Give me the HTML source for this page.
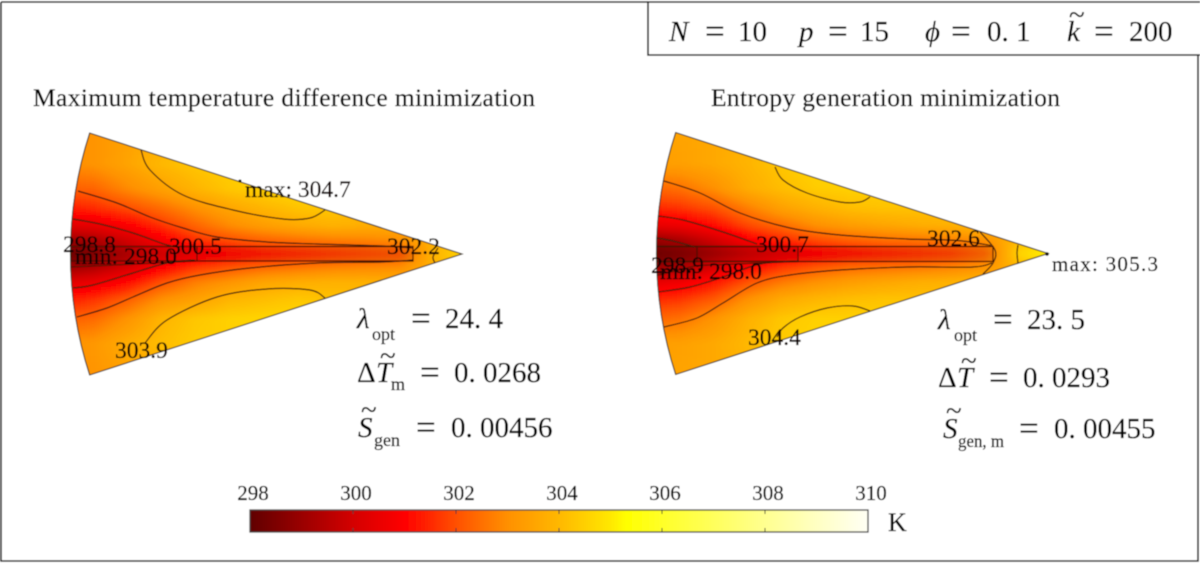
<!DOCTYPE html>
<html lang="en">
<head>
<meta charset="utf-8">
<title>Temperature fields for two optimization objectives</title>
<style>
html,body{margin:0;padding:0;background:#fff;width:1200px;height:563px;overflow:hidden}
svg{display:block}
text{font-family:"Liberation Serif",serif;fill:#000;stroke:#000;stroke-width:.22px}
.lab{font-size:23.5px;fill:#120500}
.eq{font-size:29px}
.big{font-size:35px}
.it{font-style:italic}
.sub{font-size:18px}
</style>
</head>
<body>
<svg id="chart" width="1200" height="563" viewBox="0 0 1200 563" xmlns="http://www.w3.org/2000/svg">
<defs>
<filter id="fieldBlur" x="-5%" y="-5%" width="110%" height="110%"><feGaussianBlur stdDeviation="1.6"/></filter>
<filter id="soft" x="0" y="0" width="100%" height="100%"><feGaussianBlur stdDeviation="0.5"/></filter>
<clipPath id="clipLeft"><path id="clipLeftPath" d=""/></clipPath>
<clipPath id="clipRight"><path id="clipRightPath" d=""/></clipPath>
<linearGradient id="barGradient" x1="0" x2="1" y1="0" y2="0"></linearGradient>
</defs>
<g filter="url(#soft)">
<rect x="0" y="0" width="1200" height="563" fill="#fff"/>
<path d="M1 2H648M1 2V561H1198V55" fill="none" stroke="#222" stroke-width="1.6"/>
<path d="M1200 2H648V55H1200" fill="none" stroke="#222" stroke-width="1.6"/>

<g>
<text class="eq it" x="669" y="41">N</text>
<text class="big" x="705" y="43">=</text>
<text class="eq" x="738" y="41">10</text>
<text class="eq it" x="799" y="41">p</text>
<text class="big" x="828" y="43">=</text>
<text class="eq" x="860" y="41">15</text>
<text class="eq it" x="925" y="41">ϕ</text>
<text class="big" x="951" y="43">=</text>
<text class="eq" x="987" y="41" xml:space="preserve">0. 1</text>
<text class="eq it" x="1067" y="41">k</text>
<text class="eq" x="1069" y="24">~</text>
<text class="big" x="1094" y="43">=</text>
<text class="eq" x="1129" y="41">200</text>
</g>

<text x="33" y="106" font-size="25.5" textLength="502" lengthAdjust="spacing">Maximum temperature difference minimization</text>
<text x="711" y="106" font-size="25.5" textLength="349" lengthAdjust="spacing">Entropy generation minimization</text>

<g id="leftPanel"></g>
<g id="rightPanel"></g>

<g>
<text class="lab" x="63" y="252">298.8</text>
<text class="lab" x="75" y="264">min: 298.0</text>
<text class="lab" x="169" y="254">300.5</text>
<text class="lab" x="387" y="254">302.2</text>
<text class="lab" x="245" y="197">max: 304.7</text>
<text class="lab" x="115" y="358">303.9</text>
<circle cx="240" cy="181" r="1.5" fill="#111"/>
</g>
<g>
<text class="lab" x="756" y="252">300.7</text>
<text class="lab" x="927" y="246">302.6</text>
<text class="lab" x="651" y="273">298.9</text>
<text class="lab" x="660" y="279">min: 298.0</text>
<text class="lab" x="748" y="345">304.4</text>
<text x="1052" y="271" font-size="21" textLength="106" lengthAdjust="spacing">max: 305.3</text>
<circle cx="1047" cy="254" r="1.8" fill="#111"/>
</g>

<g>
<text class="eq it" x="357" y="328">λ</text>
<text class="sub" x="372" y="340">opt</text>
<text class="big" x="411" y="330">=</text>
<text class="eq" x="445" y="328" xml:space="preserve">24. 4</text>
<text class="eq" x="357" y="382">Δ</text>
<text class="eq it" x="376" y="382">T</text>
<text class="eq" x="380" y="365">~</text>
<text class="sub" x="391" y="390">m</text>
<text class="big" x="420" y="384">=</text>
<text class="eq" x="454" y="382" xml:space="preserve">0. 0268</text>
<text class="eq it" x="358" y="437">S</text>
<text class="eq" x="361" y="419">~</text>
<text class="sub" x="374" y="446">gen</text>
<text class="big" x="416" y="439">=</text>
<text class="eq" x="451" y="437" xml:space="preserve">0. 00456</text>
</g>
<g>
<text class="eq it" x="938" y="329">λ</text>
<text class="sub" x="954" y="341">opt</text>
<text class="big" x="993" y="331">=</text>
<text class="eq" x="1027" y="329" xml:space="preserve">23. 5</text>
<text class="eq" x="938" y="387">Δ</text>
<text class="eq it" x="957" y="387">T</text>
<text class="eq" x="961" y="370">~</text>
<text class="big" x="989" y="389">=</text>
<text class="eq" x="1023" y="387" xml:space="preserve">0. 0293</text>
<text class="eq it" x="943" y="438">S</text>
<text class="eq" x="946" y="420">~</text>
<text class="sub" x="958" y="447" textLength="46" lengthAdjust="spacingAndGlyphs">gen, m</text>
<text class="big" x="1019" y="440">=</text>
<text class="eq" x="1054" y="438" xml:space="preserve">0. 00455</text>
</g>

<g id="colorbar"></g>
<text x="888" y="531" font-size="26">K</text>
</g>
</svg>
<script>
// Colour scale (kelvin → colour)
const colorStopTemps = [298, 299, 300, 301, 302, 303, 304, 305, 305.3, 306, 308, 310];
const colorStopValues = ['#600000', '#9a0000', '#d40000', '#ff0000', '#ff5000', '#ff9000', '#ffb800', '#ffe800', '#ffff00', '#ffff28', '#ffff90', '#fffff5'];
const barTickLabels = [298, 300, 302, 304, 306, 308, 310];

// Field sample positions: distance along the sector (columns) and offset from its axis (rows)
const fieldCols = [0, 34, 68, 102, 136, 170, 204, 238, 272, 306, 340, 374, 408];
const fieldRows = [120, 90, 65, 45, 28, 14, 0, -14, -28, -45, -65, -90, -120];

// Temperatures, K
const leftTemps = [
[303.0,303.1,303.4,303.7,303.9,304.1,304.3,304.4,304.5,304.5,304.5,304.5,304.5],
[302.9,303.1,303.5,304.0,304.3,304.5,304.6,304.7,304.7,304.7,304.7,304.7,304.7],
[302.2,302.3,302.9,303.4,303.9,304.3,304.5,304.7,304.6,304.6,304.6,304.6,304.6],
[301.2,301.5,301.9,302.4,303.0,303.5,303.9,304.2,304.3,304.1,304.1,304.1,304.1],
[300.2,300.4,300.9,301.6,302.3,302.9,303.3,303.6,303.8,303.7,303.7,303.8,304.0],
[299.0,299.3,300.0,300.8,301.6,302.0,302.3,302.5,302.7,302.8,303.0,303.8,304.5],
[298.0,298.6,299.4,300.1,300.6,301.0,301.3,301.5,301.7,301.9,302.1,303.9,304.7],
[299.0,299.4,300.1,301.0,301.7,302.1,302.4,302.6,302.8,302.9,303.0,303.8,304.5],
[300.2,300.5,301.1,302.0,302.7,303.1,303.5,303.7,303.8,303.8,303.7,303.8,304.0],
[301.2,301.6,302.2,303.0,303.4,303.9,304.1,304.3,304.2,304.1,304.1,304.1,304.1],
[302.2,302.4,303.1,303.9,304.3,304.5,304.6,304.7,304.6,304.6,304.6,304.6,304.6],
[303.0,303.2,303.7,304.1,304.4,304.5,304.6,304.7,304.7,304.7,304.7,304.7,304.7],
[303.0,303.1,303.4,303.7,303.9,304.1,304.3,304.4,304.5,304.5,304.5,304.5,304.5]
];
const rightTemps = [
[303.4,303.5,303.6,303.8,304.2,304.4,304.5,304.5,304.5,304.5,304.5,304.5,304.5],
[303.3,303.4,303.6,303.9,304.3,304.6,304.7,304.7,304.7,304.7,304.7,304.7,304.7],
[302.3,302.5,303.0,303.7,304.1,304.4,304.5,304.5,304.5,304.5,304.5,304.5,304.5],
[301.4,301.6,302.0,302.7,303.4,303.8,304.1,304.2,304.2,304.2,304.2,304.2,304.2],
[300.4,300.6,301.1,301.9,302.4,303.0,303.3,303.5,303.7,303.8,304.0,304.2,304.4],
[298.9,299.3,300.0,300.9,301.5,302.0,302.3,302.5,302.6,302.8,303.1,304.0,304.6],
[298.0,298.5,299.2,299.9,300.5,300.9,301.2,301.4,301.6,301.8,302.4,304.6,305.3],
[298.9,299.3,300.1,301.0,301.7,302.1,302.4,302.5,302.6,302.8,303.1,304.0,304.6],
[300.3,300.6,301.2,302.0,302.6,303.0,303.3,303.5,303.7,303.8,304.0,304.2,304.4],
[301.4,301.6,302.1,303.0,303.6,303.9,304.1,304.2,304.2,304.2,304.2,304.2,304.2],
[302.3,302.5,303.1,303.8,304.3,304.5,304.5,304.5,304.5,304.5,304.5,304.5,304.5],
[303.3,303.4,303.6,304.0,304.4,304.6,304.7,304.7,304.7,304.7,304.7,304.7,304.7],
[303.4,303.5,303.6,303.8,304.2,304.4,304.5,304.5,304.5,304.5,304.5,304.5,304.5]
];

// Isotherms, each as [distance along sector, offset from axis]
const leftIsothermCapTop = [[81,104],[90,84],[123,59],[173,44],[223,35],[250,36],[265,44]];
const leftIsothermCapBottom = [[85,-89],[107,-66],[157,-43],[207,-35],[250,-36],[265,-44]];
const leftIsothermOuterTop = [[18,63],[57,51],[90,37],[123,26],[157,17],[207,12],[257,10],[323,8],[353,6]];
const leftIsothermOuterBottom = [[17,-63],[47,-54],[73,-43],[107,-29],[140,-21],[190,-14],[257,-9],[323,-8],[353,-6]];
const leftIsothermInnerTop = [[13,35],[40,30],[73,21],[107,9],[120,7]];
const leftIsothermInnerBottom = [[13,-34],[33,-31],[73,-19],[107,-9],[135,-6]];
const leftIsothermTip = [[378,6],[373,-3],[375,-9]];
const leftFin = [[11,7.5],[353,7.5],[353,-7],[11,-7]];
const leftFinStep = [[137,7.5],[137,-7]];
const leftFinTaper = [[11,-13],[137,-7]];

const rightIsothermCapTop = [[129,86.5],[137,73.5],[161,60.5],[194,51.5],[214,51.5],[224,56.5]];
const rightIsothermCapBottom = [[224,-57.5],[207,-52.5],[181,-54.5],[154,-63.5],[137,-74.5],[131,-83.5]];
const rightIsothermOuterTop = [[18,72.5],[54,60.5],[94,40.5],[144,25.5],[194,18.5],[261,14.5],[311,13],[345,8]];
const rightIsothermOuterBottom = [[18,-73.5],[51,-64.5],[77,-49.5],[111,-29.5],[144,-21.5],[194,-16.5],[261,-13.5],[327,-13.5],[346,-9.5]];
const rightIsothermInnerTop = [[12,37.5],[37,33.5],[77,21.5],[111,9.5]];
const rightIsothermInnerBottom = [[12,-38.5],[44,-33.5],[77,-23.5],[114,-10.5],[152,-7.5]];
const rightIsothermCore = [[11,15.5],[27,12.5],[49,6.5]];
const rightIsothermWrap = [[334,21.5],[349,3.5],[347,-9.5],[337,-20.5]];
const rightIsothermTip = [[372,8.5],[371,0.5],[372,-9.5]];
const rightFin = [[10,7],[347,7],[347,-8],[10,-8]];
const rightFinMiddle = [[10,7],[152,7],[152,-8],[10,-8]];
const rightFinRoot = [[10,7],[51,7],[51,-8],[10,-8]];
const rightFinTaper = [[10,-22],[51,-12],[152,-8]];

const SVG_NS = 'http://www.w3.org/2000/svg';
function hexToRgb(h){ return [1,3,5].map(i => parseInt(h.substr(i,2),16)); }
function colorOf(t){
  const n = colorStopTemps.length;
  if (t <= colorStopTemps[0]) return colorStopValues[0];
  if (t >= colorStopTemps[n-1]) return colorStopValues[n-1];
  let i = 0;
  while (t > colorStopTemps[i+1]) i++;
  const f = (t - colorStopTemps[i]) / (colorStopTemps[i+1] - colorStopTemps[i]);
  const a = hexToRgb(colorStopValues[i]), b = hexToRgb(colorStopValues[i+1]);
  return 'rgb(' + a.map((v,k) => Math.round(v + (b[k]-v)*f)).join(',') + ')';
}
function smoothPath(pts, sx, sy){
  const p = pts.map(q => [sx(q[0]), sy(q[1])]);
  let d = 'M' + p[0][0] + ' ' + p[0][1];
  for (let i = 0; i < p.length-1; i++){
    const p0 = p[Math.max(i-1,0)], p1 = p[i], p2 = p[i+1], p3 = p[Math.min(i+2,p.length-1)];
    d += 'C' + (p1[0]+(p2[0]-p0[0])/6) + ' ' + (p1[1]+(p2[1]-p0[1])/6) + ' ' +
         (p2[0]-(p3[0]-p1[0])/6) + ' ' + (p2[1]-(p3[1]-p1[1])/6) + ' ' + p2[0] + ' ' + p2[1];
  }
  return d;
}
function polyPath(pts, sx, sy){
  return 'M' + pts.map(q => sx(q[0]) + ' ' + sy(q[1])).join('L');
}
// Field value at a position, blended between the four surrounding samples
function sampleField(temps, u, v){
  let c = 0;
  while (c < fieldCols.length-2 && u > fieldCols[c+1]) c++;
  let r = 0;
  while (r < fieldRows.length-2 && v < fieldRows[r+1]) r++;
  const fu = Math.min(1, Math.max(0, (u - fieldCols[c]) / (fieldCols[c+1] - fieldCols[c])));
  const fv = Math.min(1, Math.max(0, (fieldRows[r] - v) / (fieldRows[r] - fieldRows[r+1])));
  const top = temps[r][c] + (temps[r][c+1] - temps[r][c]) * fu;
  const bot = temps[r+1][c] + (temps[r+1][c+1] - temps[r+1][c]) * fu;
  return top + (bot - top) * fv;
}
function drawPanel(root, clipPathEl, clipId, temps, x0, y0, smoothLines, straightLines, fins){
  const sx = u => x0 + u;
  const sy = v => y0 - v;
  const R = 391.5, half = 18 * Math.PI / 180, apexU = 402;
  const ax = sx(apexU), ay = sy(0);
  const cx = ax - R * Math.cos(half), dy = R * Math.sin(half);
  const outline = 'M' + ax + ' ' + ay + 'L' + cx + ' ' + (ay-dy) + 'A' + R + ' ' + R + ' 0 0 0 ' + cx + ' ' + (ay+dy) + 'Z';
  clipPathEl.setAttribute('d', outline);

  const clipGroup = document.createElementNS(SVG_NS, 'g');
  clipGroup.setAttribute('clip-path', 'url(#' + clipId + ')');
  
  
  root.appendChild(clipGroup);
  const cells = document.createElementNS(SVG_NS, 'g');
  cells.setAttribute('filter', 'url(#fieldBlur)');
  
  
  clipGroup.appendChild(cells);

  const cellW = 5, cellH = 3;
  for (let u = -4; u < 412; u += cellW) {
    for (let v = 126; v > -126; v -= cellH) {
      const el = document.createElementNS(SVG_NS, 'rect');
      el.setAttribute('x', sx(u));
      el.setAttribute('y', sy(v));
      el.setAttribute('width', cellW + 0.5);
      el.setAttribute('height', cellH + 0.5);
      el.setAttribute('fill', colorOf(sampleField(temps, u + cellW/2, v - cellH/2)));
      
      
      cells.appendChild(el);
    }
  }

  fins.forEach(f => {
    const el = document.createElementNS(SVG_NS, 'path');
    el.setAttribute('d', polyPath(f, sx, sy) + 'Z');
    el.setAttribute('fill', 'rgba(120,0,0,0.1)');
    el.setAttribute('stroke', '#4a1000');
    el.setAttribute('stroke-width', '1.2');
    
    
    clipGroup.appendChild(el);
  });
  straightLines.forEach(l => {
    const el = document.createElementNS(SVG_NS, 'path');
    el.setAttribute('d', polyPath(l, sx, sy));
    el.setAttribute('fill', 'none');
    el.setAttribute('stroke', '#4a1000');
    el.setAttribute('stroke-width', '1.1');
    
    
    clipGroup.appendChild(el);
  });
  smoothLines.forEach(l => {
    const el = document.createElementNS(SVG_NS, 'path');
    el.setAttribute('d', smoothPath(l, sx, sy));
    el.setAttribute('fill', 'none');
    el.setAttribute('stroke', '#3a1a08');
    el.setAttribute('stroke-width', '1.2');
    
    
    clipGroup.appendChild(el);
  });
  const border = document.createElementNS(SVG_NS, 'path');
  border.setAttribute('d', outline);
  border.setAttribute('fill', 'none');
  border.setAttribute('stroke', '#3a3020');
  border.setAttribute('stroke-width', '1.1');
  
  
  root.appendChild(border);
}

drawPanel(document.getElementById('leftPanel'), document.getElementById('clipLeftPath'), 'clipLeft', leftTemps, 60, 254,
  [leftIsothermCapTop, leftIsothermCapBottom, leftIsothermOuterTop, leftIsothermOuterBottom, leftIsothermInnerTop, leftIsothermInnerBottom, leftIsothermTip],
  [leftFinTaper, leftFinStep], [leftFin]);
drawPanel(document.getElementById('rightPanel'), document.getElementById('clipRightPath'), 'clipRight', rightTemps, 646, 253.5,
  [rightIsothermCapTop, rightIsothermCapBottom, rightIsothermOuterTop, rightIsothermOuterBottom, rightIsothermInnerTop, rightIsothermInnerBottom, rightIsothermCore, rightIsothermWrap, rightIsothermTip],
  [rightFinTaper], [rightFin, rightFinMiddle, rightFinRoot]);

// Colour bar
(function(){
  const barLeft = 250, barRight = 868, barTop = 510, barBottom = 532;
  const tMin = colorStopTemps[0], tMax = colorStopTemps[colorStopTemps.length-1];
  const bx = t => barLeft + (t - tMin) / (tMax - tMin) * (barRight - barLeft);
  const grad = document.getElementById('barGradient');
  colorStopTemps.forEach((t, i) => {
    const s = document.createElementNS(SVG_NS, 'stop');
    s.setAttribute('offset', (t - tMin) / (tMax - tMin));
    s.setAttribute('stop-color', colorStopValues[i]);
    grad.appendChild(s);
  });
  const g = document.getElementById('colorbar');
  const rect = document.createElementNS(SVG_NS, 'rect');
  rect.setAttribute('x', barLeft);
  rect.setAttribute('y', barTop);
  rect.setAttribute('width', barRight - barLeft);
  rect.setAttribute('height', barBottom - barTop);
  rect.setAttribute('fill', 'url(#barGradient)');
  rect.setAttribute('stroke', '#444');
  rect.setAttribute('stroke-width', '1.3');
  
  
  g.appendChild(rect);
  barTickLabels.forEach(t => {
    const x = bx(t);
    if (t > tMin && t < tMax) {
      const tk = document.createElementNS(SVG_NS, 'path');
      tk.setAttribute('d', 'M' + x + ' ' + barTop + 'v4M' + x + ' ' + barBottom + 'v-4');
      tk.setAttribute('stroke', '#333');
      tk.setAttribute('stroke-width', '1');
      
      
      g.appendChild(tk);
    }
    const lb = document.createElementNS(SVG_NS, 'text');
    lb.setAttribute('x', x + 3);
    lb.setAttribute('y', 500);
    lb.setAttribute('font-size', '21');
    lb.setAttribute('text-anchor', 'middle');
    
    
    lb.textContent = t;
    g.appendChild(lb);
  });
})();
</script>
</body>
</html>
